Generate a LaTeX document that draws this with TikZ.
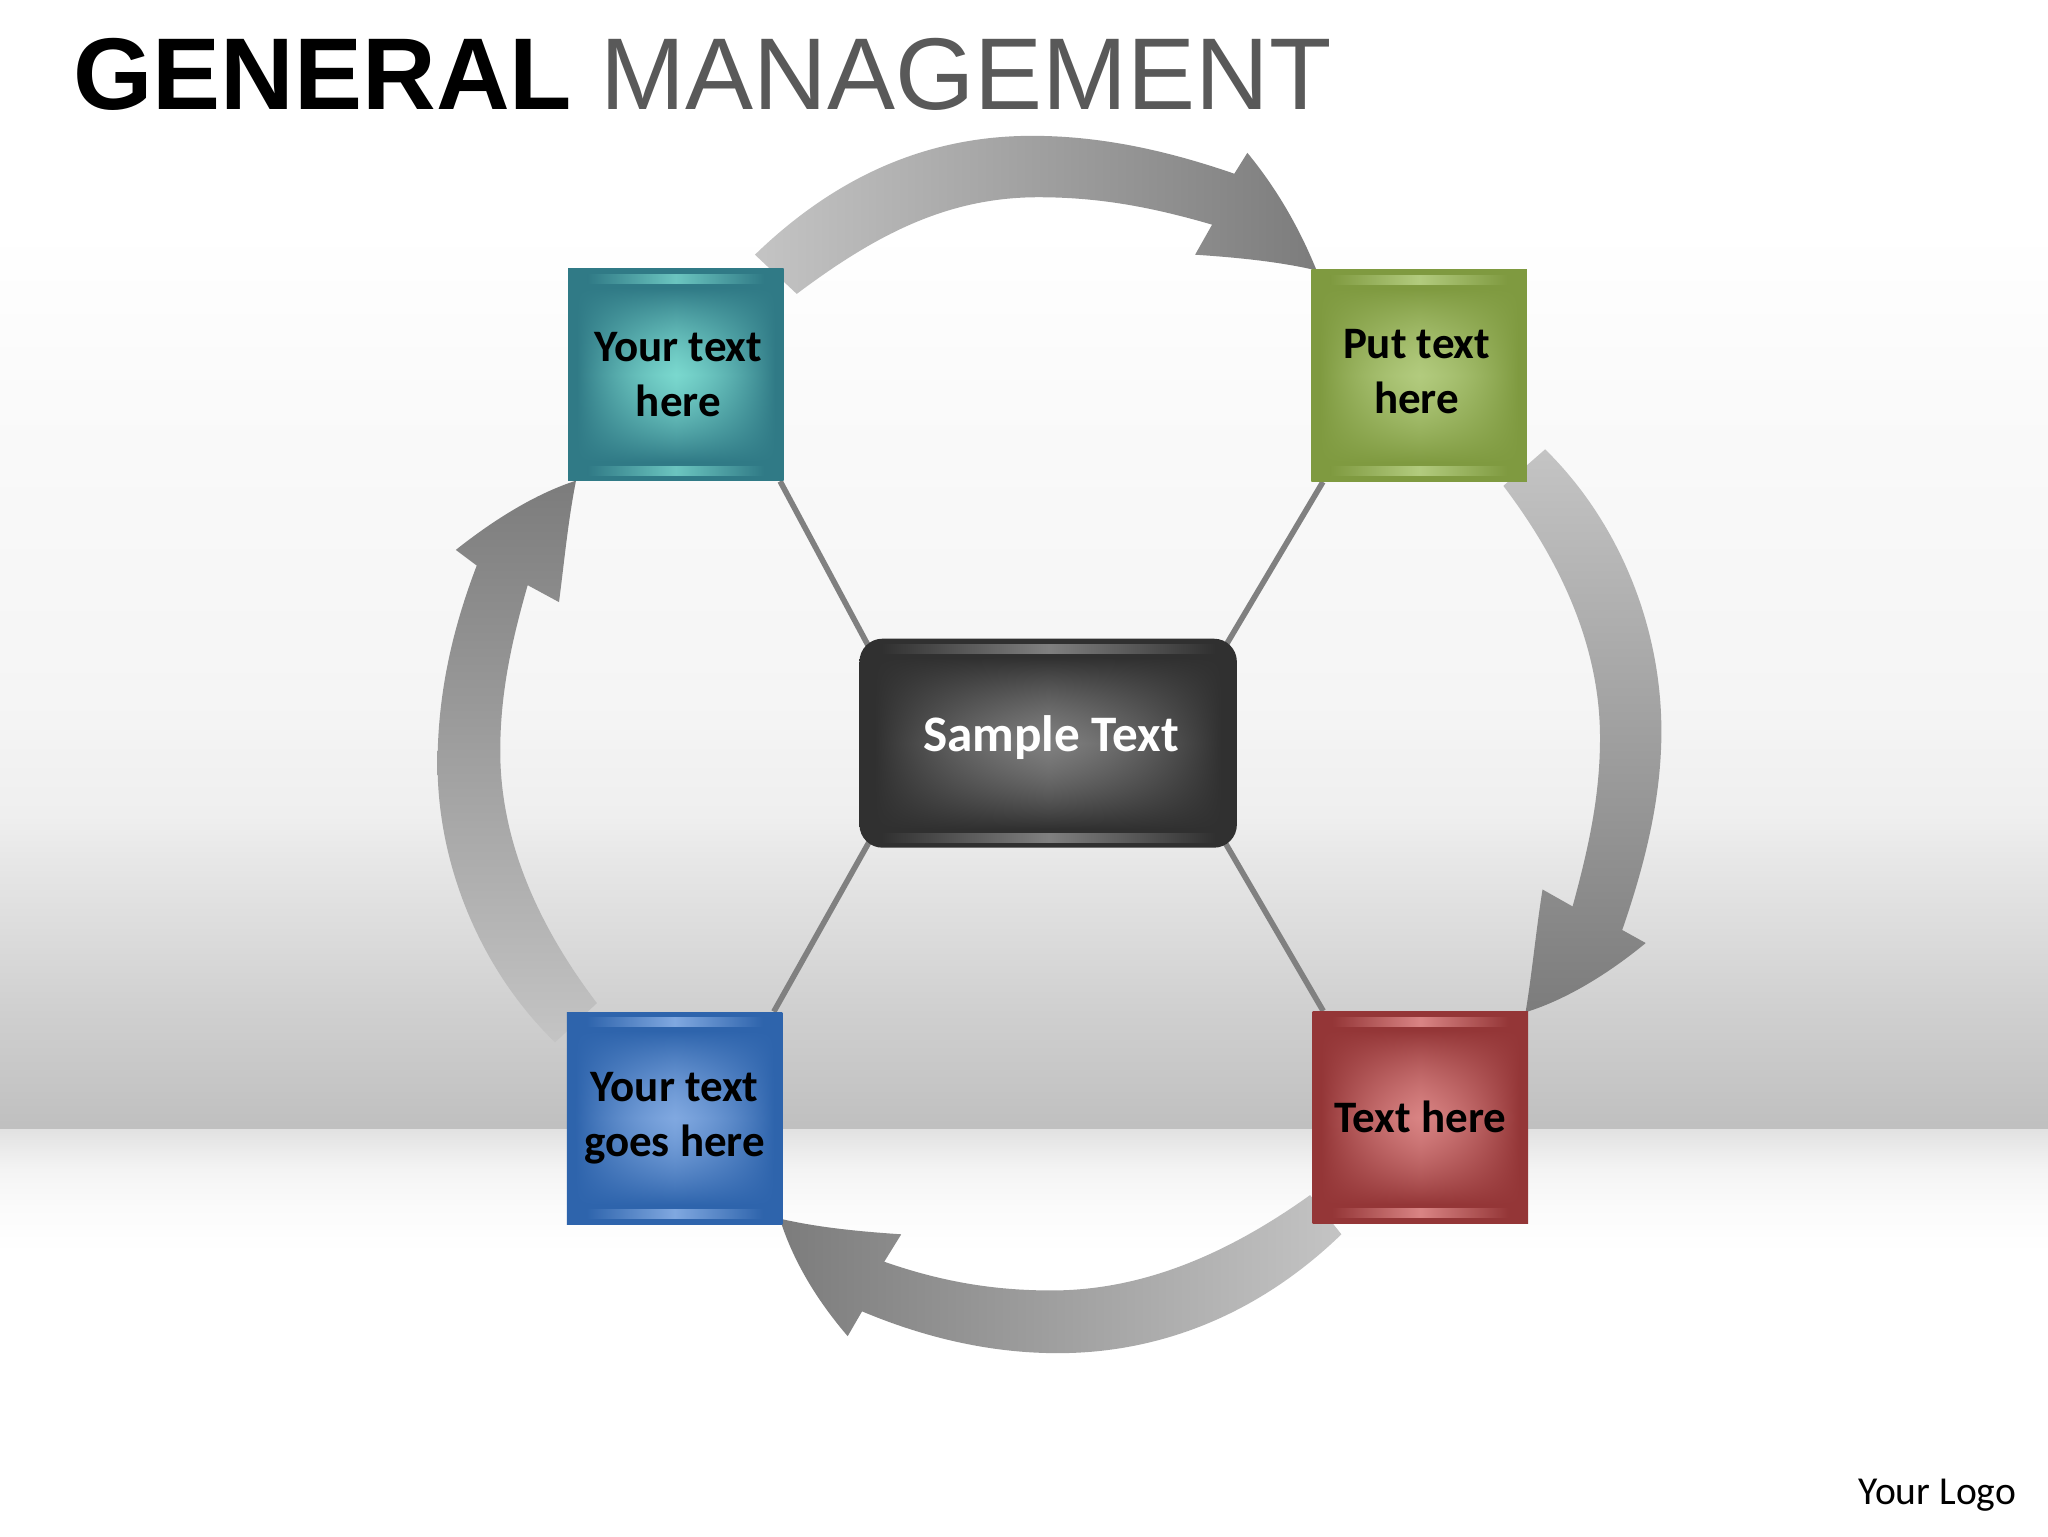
\documentclass[tikz,border=0pt]{standalone}
\usepackage{fontspec}
\setmainfont{Carlito}
\newfontfamily\titlefont{Liberation Sans}
\pgfdeclarelayer{back}
\pgfsetlayers{back,main}
\definecolor{tealedge}{HTML}{307A86}\definecolor{tealcore}{HTML}{7AD8CE}
\definecolor{greenedge}{HTML}{7F9A40}\definecolor{greencore}{HTML}{B2CB7E}
\definecolor{rededge}{HTML}{943637}\definecolor{redcore}{HTML}{D98484}
\definecolor{blueedge}{HTML}{2E64AC}\definecolor{bluecore}{HTML}{80A8E0}
\definecolor{darkedge}{HTML}{303030}\definecolor{darkcore}{HTML}{808080}
\definecolor{arrowlight}{HTML}{C4C4C4}\definecolor{arrowdark}{HTML}{7C7C7C}
\definecolor{spoke}{HTML}{808080}
\definecolor{titlegray}{HTML}{595959}
\pgfdeclareverticalshading{wallshade}{100bp}{gray(0bp)=(0.75);gray(25bp)=(0.75);gray(30.4bp)=(0.815);gray(33.8bp)=(0.863);gray(37.2bp)=(0.91);gray(38.9bp)=(0.937);gray(44bp)=(0.961);gray(57.3bp)=(0.98);gray(64.8bp)=(1);gray(100bp)=(1)}
\pgfdeclareverticalshading{floorshade}{100bp}{gray(0bp)=(1);gray(25bp)=(1);gray(43.4bp)=(0.985);gray(59bp)=(0.957);gray(75bp)=(0.886);gray(100bp)=(0.886)}
\newcommand\tileshade[7]{\pgfdeclarefunctionalshading{#1}{\pgfqpoint{0bp}{0bp}}{\pgfqpoint{100bp}{100bp}}{}{
  50 sub 25 div abs 0.82 div dup 1 gt {pop 1} if dup dup mul add 0.5 mul 1 exch sub
  exch
  50 sub 25 div abs 0.92 div dup 1 gt {pop 1} if dup dup mul add 0.5 mul 1 exch sub
  mul dup dup
  #5 mul #2 add 3 1 roll
  #6 mul #3 add exch
  #7 mul #4 add
}}
\tileshade{tealglow}{0.188}{0.478}{0.525}{0.29}{0.369}{0.283}
\tileshade{greenglow}{0.498}{0.604}{0.251}{0.2}{0.192}{0.243}
\tileshade{redglow}{0.58}{0.212}{0.216}{0.271}{0.306}{0.302}
\tileshade{blueglow}{0.18}{0.392}{0.675}{0.322}{0.267}{0.203}
\tileshade{darkglow}{0.188}{0.188}{0.188}{0.314}{0.314}{0.314}
\tikzset{
  tile/.style={rectangle,inner sep=0pt,minimum width=107.8pt,minimum height=106pt,align=center,text=black,
    font=\fontsize{22.5}{27.4}\selectfont\bfseries},
  hub/.style={rectangle,rounded corners=11.5pt,inner sep=0pt,minimum width=188.7pt,minimum height=104.5pt,align=center,text=white,
    font=\fontsize{25.6}{30}\selectfont\bfseries},
  flow/.style={draw=none},
  flowlr/.style={flow,left color=arrowlight,right color=arrowdark},
  flowrl/.style={flow,right color=arrowlight,left color=arrowdark},
  flowtb/.style={flow,top color=arrowlight,bottom color=arrowdark},
  flowbt/.style={flow,bottom color=arrowlight,top color=arrowdark},
  spokeline/.style={draw=spoke,line width=2.8pt,shorten >=-6pt},
}
\newcommand\gleam[4]{%
  \path[left color=#2,right color=#2,middle color=#3]
    ([xshift=#4,yshift=-3pt]#1.north west) rectangle ([xshift=-#4,yshift=-7.5pt]#1.north east);
  \path[left color=#2,right color=#2,middle color=#3]
    ([xshift=#4,yshift=3pt]#1.south west) rectangle ([xshift=-#4,yshift=7.5pt]#1.south east);
}
\begin{document}
\begin{tikzpicture}[x=0.65306pt,y=-0.65306pt]
\useasboundingbox (0,0) rectangle (1568,1176);
\begin{pgfonlayer}{back}
\path[shading=wallshade] (0,0) rectangle (1568,865);
\path[fill=white] (0,865) rectangle (1568,1176);
\path[shading=floorshade] (0,865) rectangle (1568,960);
\end{pgfonlayer}
% circular arrows
\path[flowlr] (578,195) .. controls (640,135) and (710,104) .. (790,104) .. controls (840,104) and (890,114) .. (945,133)
  -- (955,117) .. controls (978,145) and (995,175) .. (1008,207) .. controls (978,200) and (945,197) .. (915,195)
  -- (928,172) .. controls (880,158) and (840,151) .. (795,151) .. controls (725,151) and (670,180) .. (610,225) -- cycle;
\path[flowtb] (1183,344) .. controls (1240,400) and (1272,480) .. (1272,560) .. controls (1272,610) and (1260,660) .. (1242,712)
  -- (1260,722) .. controls (1232,745) and (1200,765) .. (1168,775) .. controls (1173,745) and (1176,712) .. (1181,681)
  -- (1204,694) .. controls (1216,650) and (1225,610) .. (1225,565) .. controls (1225,495) and (1195,430) .. (1151,372) -- cycle;
\path[flowrl] (1027,945) .. controls (965,1005) and (890,1036) .. (810,1036) .. controls (760,1036) and (710,1025) .. (660,1004)
  -- (649,1023) .. controls (625,995) and (607,965) .. (597,933) .. controls (627,940) and (660,943) .. (690,945)
  -- (677,966) .. controls (720,981) and (760,988) .. (805,988) .. controls (875,988) and (940,960) .. (1003,915) -- cycle;
\path[flowbt] (425,798) .. controls (370,745) and (335,665) .. (335,585) .. controls (335,530) and (347,480) .. (365,433)
  -- (349,421) .. controls (378,398) and (410,378) .. (441,368) .. controls (435,398) and (432,430) .. (428,461)
  -- (404,448) .. controls (392,490) and (383,530) .. (383,575) .. controls (383,645) and (413,710) .. (457,768) -- cycle;
% tiles
\node[tile,shading=tealglow] (teal) at (517.5,287) {\hspace{2.5pt}Your text\\\hspace{2.5pt}here};
\node[tile,shading=greenglow] (green) at (1086.5,287.5) {\hspace{-2.5pt}\raisebox{4pt}{Put text}\\\hspace{-2.5pt}\raisebox{4pt}{here}};
\node[tile,shading=redglow] (red) at (1087.5,855.5) {\raisebox{1pt}{Text here}};
\node[tile,shading=blueglow] (blue) at (516.5,856) {\raisebox{-0.6pt}{Your text}\\\raisebox{-0.6pt}{goes here}};
\node[hub,shading=darkglow] (hub) at (802.5,569) {\hspace{3pt}\raisebox{9.6pt}{Sample Text}};
\gleam{teal}{tealedge}{tealcore!80!tealedge}{10pt}
\gleam{green}{greenedge}{greencore}{10pt}
\gleam{red}{rededge}{redcore}{10pt}
\gleam{blue}{blueedge}{bluecore}{10pt}
\gleam{hub}{darkedge}{darkcore}{11pt}
\begin{pgfonlayer}{back}
\draw[spokeline] ([xshift=-2pt]teal.south east) -- ([xshift=2.6pt]hub.north west);
\draw[spokeline] ([xshift=6pt]green.south west) -- ([xshift=-3.6pt]hub.north east);
\draw[spokeline] ([xshift=5.5pt]red.north west) -- ([xshift=-4.5pt]hub.south east);
\draw[spokeline] ([xshift=-4.5pt]blue.north east) -- ([xshift=3.3pt]hub.south west);
\end{pgfonlayer}
% title and logo
\node[anchor=base west,inner sep=0pt,font=\titlefont\fontsize{51}{60}\selectfont] (title) at (56,84)
  {\textbf{GENERAL} \textcolor{titlegray}{MANAGEMENT}};
\node[anchor=base east,inner sep=0pt,font=\fontsize{19.8}{24}\selectfont] (logo) at (1544,1152) {Your Logo};
\end{tikzpicture}
\end{document}
